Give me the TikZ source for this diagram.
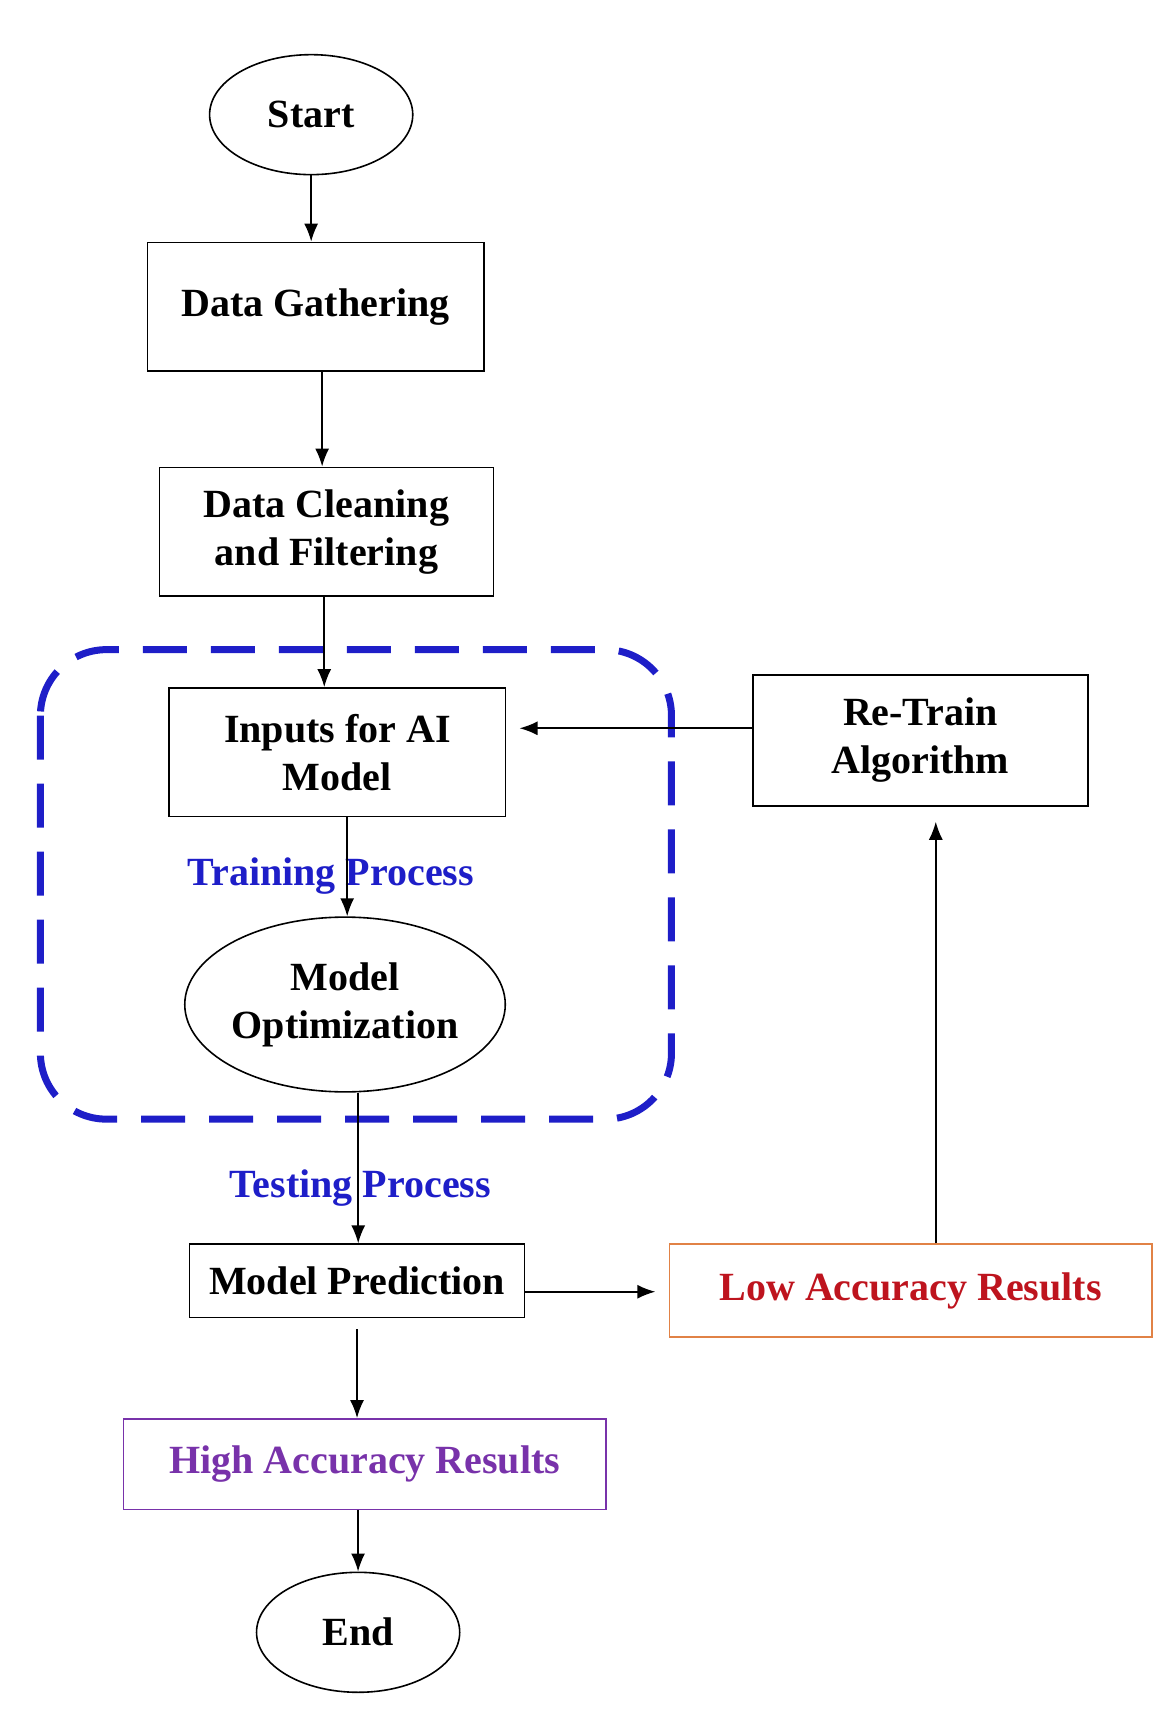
\documentclass[tikz,border=0pt]{standalone}
\usepackage{fontspec}
\setmainfont{Liberation Serif}
\usetikzlibrary{shapes.geometric,arrows.meta,positioning}
\definecolor{procblue}{RGB}{30,30,200}
\definecolor{lowred}{RGB}{190,20,30}
\definecolor{loworange}{RGB}{225,130,70}
\definecolor{highpurple}{RGB}{120,50,170}

\begin{document}
\begin{tikzpicture}[x=0.546pt, y=-0.546pt,
    every node/.style={font=\fontsize{20}{24}\selectfont\bfseries},
    stage/.style={rectangle, draw, thick, align=center, inner sep=0pt},
    term/.style={ellipse, draw, thick, align=center, inner sep=0pt},
    phase/.style={text=procblue},
    arrow/.style={-{Latex[length=9pt,width=7pt]}, thick}
]
\useasboundingbox (0,0) rectangle (1066,1568);

% dashed training frame
\draw[procblue, line width=3.5pt, dash pattern=on 22pt off 12pt, rounded corners=33pt]
    (37,595) rectangle (615,1025);

\node[term, minimum width=101.6pt, minimum height=60pt] (start) at (285,105) {Start};
\node[stage, minimum width=168.2pt, minimum height=64.4pt] (gather) at (289,281) {Data Gathering};
\node[stage, minimum width=167pt, minimum height=64.4pt] (clean) at (299,487) {Data Cleaning\\and Filtering};
\node[stage, minimum width=168.2pt, minimum height=64.4pt] (inputs) at (309,689) {Inputs for AI\\Model};
\node[stage, minimum width=167.6pt, minimum height=65.5pt] (retrain) at (843,678) {Re-Train\\Algorithm};
\node[phase] (training) at (303,802) {Training Process};
\node[term, minimum width=149.6pt, minimum height=87.4pt] (optim) at (316,920) {Model\\Optimization};
\node[phase] (testing) at (330,1088) {Testing Process};
\node[stage, minimum width=167.6pt, minimum height=36.6pt] (predict) at (327,1173) {Model Prediction};
\node[stage, draw=loworange, text=lowred, minimum width=241.3pt, minimum height=46.4pt] (low) at (834,1182) {Low Accuracy Results};
\node[stage, draw=highpurple, text=highpurple, minimum width=241.3pt, minimum height=45.3pt] (high) at (334,1341) {High Accuracy Results};
\node[term, minimum width=101.6pt, minimum height=60pt] (end) at (328,1495) {End};

\draw[arrow] (start.south) -- (start.south |- gather.north);
\draw[arrow] ([xshift=3.3pt]gather.south) -- ([xshift=3.3pt]gather.south |- clean.north);
\draw[arrow] ([xshift=-1.1pt]clean.south) -- ([xshift=-1.1pt]clean.south |- inputs.north);
\draw[arrow] ([xshift=4.9pt]inputs.south) -- ([xshift=4.9pt]inputs.south |- optim.north);
\draw[arrow] ([xshift=6.6pt]optim.south) -- ([xshift=6.6pt]optim.south |- predict.north);
\draw[arrow] ([yshift=-5.5pt]predict.south) -- (predict.south |- high.north);
\draw[arrow] ([xshift=-3.3pt]high.south) -- ([xshift=-3.3pt]high.south |- end.north);
\draw[arrow] ([yshift=-5.5pt]predict.east) -- ([xshift=-6.6pt,yshift=-5.5pt]predict.east -| low.west);
\draw[arrow] ([xshift=12.6pt]low.north) -- ([xshift=12.6pt,yshift=-7.6pt]low.north |- retrain.south);
\draw[arrow] ([yshift=6pt]retrain.west) -- ([xshift=6.6pt,yshift=6pt]retrain.west -| inputs.east);
\end{tikzpicture}
\end{document}
